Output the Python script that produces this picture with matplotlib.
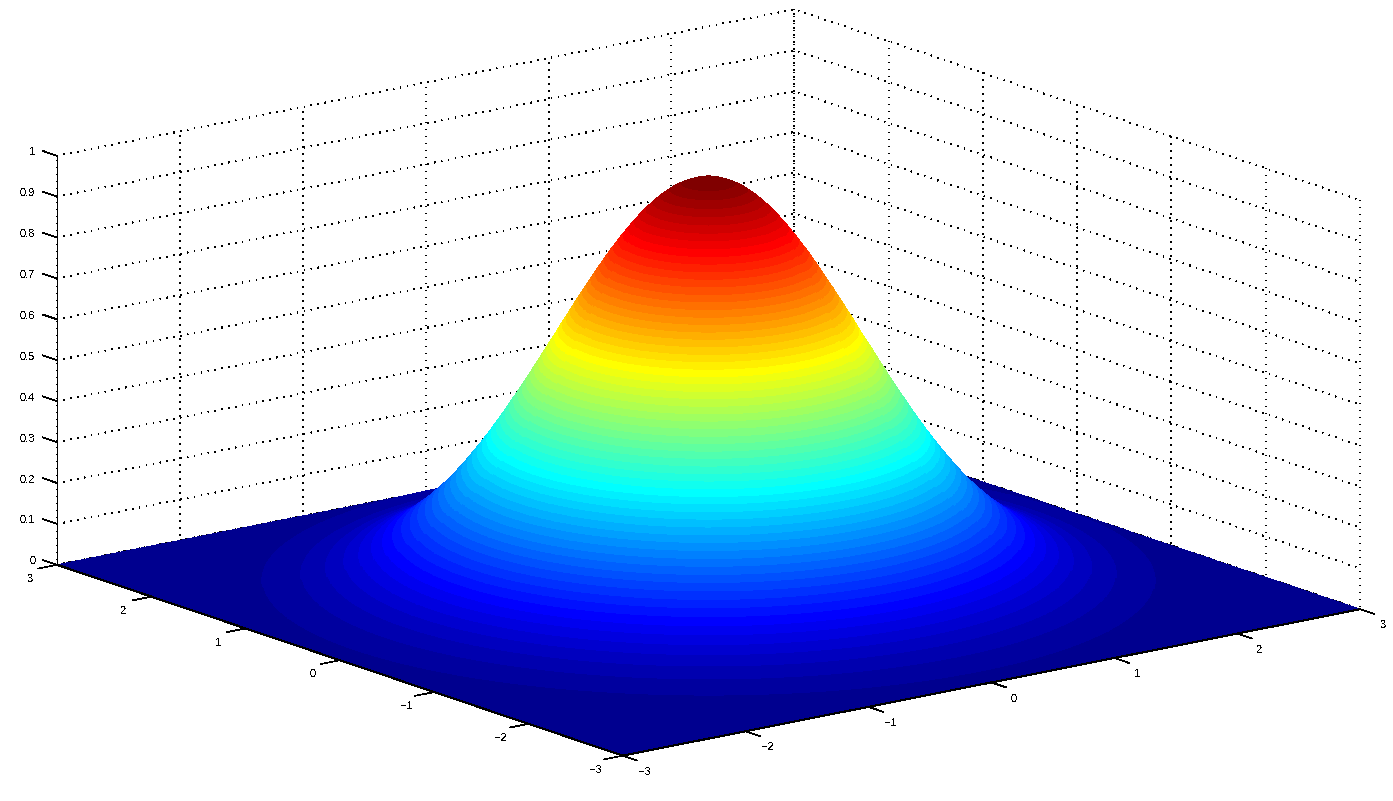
import numpy as np
import matplotlib
matplotlib.use('Agg')
import matplotlib.pyplot as plt
from matplotlib.colors import LinearSegmentedColormap
from matplotlib.transforms import ScaledTranslation

# Bell profile: height at each ring radius (one ring per colour band)
ring_radius = [0.0, 0.09, 0.178, 0.215, 0.252, 0.28, 0.31, 0.359, 0.403, 0.444, 0.481, 0.517,
               0.551, 0.583, 0.614, 0.645, 0.674, 0.703, 0.731, 0.759, 0.786, 0.813, 0.839,
               0.866, 0.892, 0.918, 0.944, 0.97, 0.995, 1.021, 1.047, 1.073, 1.099, 1.125,
               1.151, 1.177, 1.204, 1.231, 1.258, 1.286, 1.314, 1.342, 1.371, 1.401, 1.431,
               1.461, 1.493, 1.525, 1.559, 1.593, 1.628, 1.665, 1.703, 1.743, 1.785, 1.83,
               1.877, 1.927, 1.981, 2.039, 2.104, 2.176, 2.258, 2.355, 2.474, 2.633, 2.884, 3.0]
ring_height = [1.0, 0.996, 0.984, 0.977, 0.969, 0.961, 0.953, 0.938, 0.922, 0.906, 0.891, 0.875,
               0.859, 0.844, 0.828, 0.813, 0.797, 0.781, 0.766, 0.75, 0.734, 0.719, 0.703,
               0.688, 0.672, 0.656, 0.641, 0.625, 0.609, 0.594, 0.578, 0.563, 0.547, 0.531,
               0.516, 0.5, 0.484, 0.469, 0.453, 0.438, 0.422, 0.406, 0.391, 0.375, 0.359,
               0.344, 0.328, 0.313, 0.297, 0.281, 0.266, 0.25, 0.234, 0.219, 0.203, 0.188,
               0.172, 0.156, 0.141, 0.125, 0.109, 0.094, 0.078, 0.063, 0.047, 0.031, 0.016, 0.0]

x_ticks = [-3, -2, -1, 0, 1, 2, 3]
y_ticks = [-3, -2, -1, 0, 1, 2, 3]
z_ticks = [0, 0.1, 0.2, 0.3, 0.4, 0.5, 0.6, 0.7, 0.8, 0.9, 1]
x_labels = ['\u22123', '\u22122', '\u22121', '0', '1', '2', '3']
y_labels = ['\u22123', '\u22122', '\u22121', '0', '1', '2', '3']
z_labels = ['0', '0.1', '0.2', '0.3', '0.4', '0.5', '0.6', '0.7', '0.8', '0.9', '1']

plt.rcParams['font.family'] = ['Liberation Sans', 'DejaVu Sans']
plt.rcParams['text.antialiased'] = False
plt.rcParams['lines.antialiased'] = False

# Matlab's old jet with 64 steps
jet64 = LinearSegmentedColormap.from_list('jet64', [
    (0, (0, 0, 0.5625)), (7 / 63, (0, 0, 1)), (23 / 63, (0, 1, 1)),
    (39 / 63, (1, 1, 0)), (55 / 63, (1, 0, 0)), (1, (0.5, 0, 0))], N=64)

W, H = 1393, 801
fig = plt.figure(figsize=(W / 100, H / 100), dpi=100, facecolor='white')
# square axes wider than the figure is tall, placed by hand so the box lands where it should
ax = fig.add_axes([-6.8 / W, -296.8 / H, W / W, W / H], projection='3d', proj_type='ortho')
ax.view_init(elev=15, azim=-127.5)
ax.set_box_aspect((1, 1, 0.4557), zoom=0.9623)
ax.computed_zorder = False
ax.patch.set_alpha(0)

# floor square
ax.plot_surface(np.array([[-3, 3], [-3, 3]]), np.array([[-3, -3], [3, 3]]), np.zeros((2, 2)),
                color=jet64(0), shade=False, linewidth=0, antialiased=False, zorder=1)

# bell, one flat colour per ring
r = np.array(ring_radius)
z = np.array(ring_height)
theta = np.radians(np.arange(0, 361, 2))
X = np.outer(r, np.cos(theta))
Y = np.outer(r, np.sin(theta))
Z = np.outer(z, np.ones_like(theta))
mid = (z[:-1] + z[1:]) / 2
levels = np.minimum((mid * 64).astype(int), 63)
colors = np.repeat(jet64(levels)[:, None, :], len(theta) - 1, axis=1)
ax.plot_surface(X, Y, Z, facecolors=colors, rstride=1, cstride=1, shade=False,
                linewidth=0, antialiased=False, zorder=2)

# axis lines sit under the floor otherwise
ax.plot([x_ticks[0], x_ticks[-1]], [y_ticks[0], y_ticks[0]], [0, 0], color='black', lw=0.72, zorder=3)
ax.plot([x_ticks[0], x_ticks[0]], [y_ticks[0], y_ticks[-1]], [0, 0], color='black', lw=0.72, zorder=3)

ax.set_xlim(-3, 3, view_margin=0)
ax.set_ylim(-3, 3, view_margin=0)
ax.set_zlim(0, 1, view_margin=0)
ax.set_xticks(x_ticks, labels=x_labels)
ax.set_yticks(y_ticks, labels=y_labels)
ax.set_zticks(z_ticks, labels=z_labels)

# z ticks should run along y like in the reference
ax.zaxis._get_tickdir = lambda pos: 1

for axis in (ax.xaxis, ax.yaxis, ax.zaxis):
    axis.set_pane_color((1, 1, 1, 1))
    axis.pane.set_edgecolor('white')
    axis.line.set_color('black')
    axis.line.set_linewidth(0.72)
    axis._axinfo['grid'].update(color='black', linewidth=0.5, linestyle=(0, (0.8, 9.4)))
    axis._axinfo['tick'].update(inward_factor=0.32, outward_factor=0.0, linewidth={True: 0.5, False: 0.5})
    axis.set_tick_params(labelsize=8, colors='black')
    axis.gridlines.set_capstyle('butt')
ax.zaxis._axinfo['tick'].update(inward_factor=0.0, outward_factor=0.32)


# Axis3D resets the label transform in get_major_ticks, so wrap it to nudge the labels (pixels)
def shift_labels(axis, dx, dy, ha='center'):
    orig = axis.get_major_ticks
    offset = ScaledTranslation(dx / 100, dy / 100, fig.dpi_scale_trans)

    def patched(numticks=None):
        ticks = orig(numticks)
        for tick in ticks:
            tick.label1.set_transform(ax.transData + offset)
            tick.label1.set_ha(ha)
        return ticks
    axis.get_major_ticks = patched


shift_labels(ax.xaxis, 10, 2)
shift_labels(ax.yaxis, -11, 3)
shift_labels(ax.zaxis, 7, 7.5, ha='right')

fig.savefig('out.png', dpi=100, facecolor='white')
